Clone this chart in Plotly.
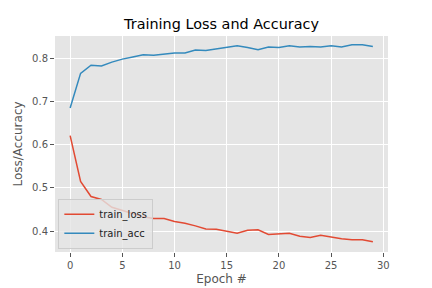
import plotly.graph_objects as go

epochs = list(range(30))
train_loss = [0.621, 0.515, 0.480, 0.473, 0.455, 0.448, 0.441, 0.433, 0.429, 0.429,
              0.422, 0.418, 0.412, 0.405, 0.404, 0.399, 0.395, 0.402, 0.403, 0.392,
              0.394, 0.395, 0.388, 0.385, 0.390, 0.386, 0.382, 0.380, 0.380, 0.375]
train_acc = [0.685, 0.765, 0.784, 0.782, 0.791, 0.798, 0.803, 0.808, 0.807, 0.809,
             0.812, 0.812, 0.819, 0.818, 0.822, 0.825, 0.829, 0.825, 0.820, 0.826,
             0.825, 0.829, 0.826, 0.827, 0.826, 0.829, 0.826, 0.831, 0.831, 0.827]
x_ticks = [0, 5, 10, 15, 20, 25, 30]
y_ticks = [0.4, 0.5, 0.6, 0.7, 0.8]

FONT = "DejaVu Sans"
fig = go.Figure()
fig.add_trace(go.Scatter(x=epochs, y=train_loss, mode="lines", name="train_loss",
                         line=dict(color="#E24A33", width=1.5)))
fig.add_trace(go.Scatter(x=epochs, y=train_acc, mode="lines", name="train_acc",
                         line=dict(color="#348ABD", width=1.5)))

fig.update_layout(
    width=432, height=288,
    margin=dict(l=55, r=44, t=36, b=36),
    paper_bgcolor="white", plot_bgcolor="#E5E5E5",
    font=dict(family=FONT, size=10, color="#555555"),
    title=dict(text="Training Loss and Accuracy", x=(55 + 388) / 2 / 432, xanchor="center",
               y=1 - 24 / 288, yanchor="middle",
               font=dict(family=FONT, size=14.4, color="black")),
    showlegend=True,
    legend=dict(x=0.01, y=0.015, xanchor="left", yanchor="bottom",
                bgcolor="rgba(229,229,229,0.8)", bordercolor="#cccccc", borderwidth=1,
                font=dict(family=FONT, size=10, color="#222222"),
                itemwidth=30, tracegroupgap=0),
)
fig.update_xaxes(range=[-1.45, 30.45], tickvals=x_ticks, ticktext=[str(t) for t in x_ticks],
                 showgrid=True, gridcolor="white", gridwidth=1, zeroline=False,
                 ticks="outside", ticklen=4, tickcolor="#555555", automargin=False,
                 title=dict(text="Epoch #", font=dict(family=FONT, size=12, color="#555555"), standoff=4),
                 showline=False)
fig.update_yaxes(range=[0.3515, 0.8515], tickvals=y_ticks, ticktext=[f"{t:.1f}" for t in y_ticks],
                 showgrid=True, gridcolor="white", gridwidth=1, zeroline=False,
                 ticks="outside", ticklen=4, tickcolor="#555555", automargin=False,
                 title=dict(text="Loss/Accuracy", font=dict(family=FONT, size=12, color="#555555"), standoff=6),
                 showline=False)

fig.write_html("out.html")
